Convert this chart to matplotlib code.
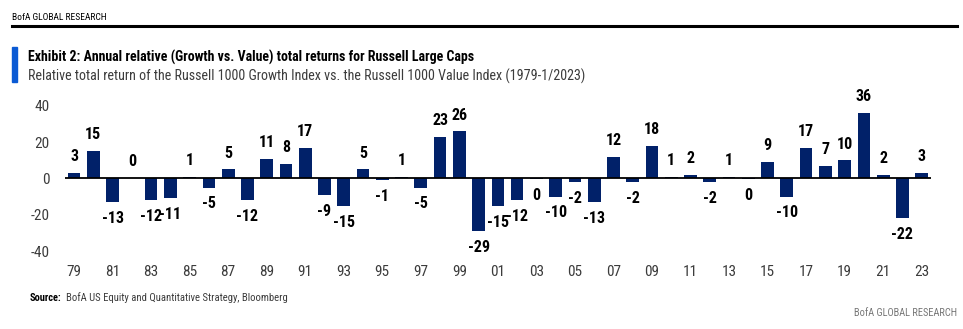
import matplotlib.pyplot as plt
from matplotlib.patches import Rectangle
from matplotlib.lines import Line2D

years = list(range(1979, 2024))
year_labels = [f"{y % 100:02d}" for y in years]
# Russell 1000 Growth minus Russell 1000 Value, annual total return (%)
rel_return = [3, 15, -13, 0.4, -12, -11, 1, -5, 5, -12,
              11, 8, 17, -9, -15, 5, -1, 1, -5, 23,
              26, -29, -15, -12, -0.4, -10, -2, -13, 12, -2,
              18, 1, 2, -2, 1, -0.4, 9, -10, 17, 7,
              10, 36, 2, -22, 3]
y_ticks = [40, 20, 0, -20, -40]

navy = "#012169"
grey = "#3c3c3c"
cond = ["Roboto Condensed", "DejaVu Sans"]

fig = plt.figure(figsize=(9.63, 3.29), dpi=100)
ax = fig.add_axes([0.0675, 0.237, 0.899, 0.441])

x = list(range(len(years)))
ax.bar(x, rel_return, width=0.66, color=navy, zorder=2)
ax.axhline(0, color="black", lw=1.3, zorder=3)

for xi, v in zip(x, rel_return):
    off = 9 if v >= 0 else -9
    ax.text(xi, v + off, f"{v:.0f}".replace("-0", "0"), ha="center", va="center",
            fontsize=11.5, fontweight="bold", family=cond, color="black")

ax.set_xlim(-0.47, len(years) - 0.53)
ax.set_ylim(-40, 40)
ax.set_yticks(y_ticks)
ax.set_yticklabels([str(t) for t in y_ticks], family=cond, fontsize=11, color=grey)
ax.set_xticks(x[::2])
ax.set_xticklabels(year_labels[::2], family=cond, fontsize=11, color=grey)
ax.tick_params(axis="both", length=0)
ax.tick_params(axis="x", pad=10)
ax.tick_params(axis="y", pad=11)
for s in ax.spines.values():
    s.set_visible(False)

# header
fig.text(12 / 963, 1 - 17 / 329, "BofA GLOBAL RESEARCH", fontsize=6.8,
         family=cond, va="center", color="black")
fig.add_artist(Line2D([12 / 963, 957 / 963], [1 - 26 / 329] * 2,
                      color="black", lw=2.2, transform=fig.transFigure))
fig.add_artist(Rectangle((12 / 963, 1 - 82 / 329), 5 / 963, 35 / 329,
                         color="#0a5ad4", transform=fig.transFigure))
fig.text(28 / 963, 1 - 57 / 329,
         "Exhibit 2: Annual relative (Growth vs. Value) total returns for Russell Large Caps",
         fontsize=10, fontweight="bold", family=cond, va="center", color="black")
fig.text(28 / 963, 1 - 76 / 329,
         "Relative total return of the Russell 1000 Growth Index vs. the Russell 1000 Value Index (1979-1/2023)",
         fontsize=10.1, family=cond, va="center", color=grey)

# footer
fig.text(30 / 963, 1 - 298 / 329, "Source:", fontsize=7.5, fontweight="bold",
         family=cond, va="center", color="black")
fig.text(66 / 963, 1 - 298 / 329,
         "BofA US Equity and Quantitative Strategy, Bloomberg",
         fontsize=7.7, family=cond, va="center", color=grey)
fig.text(957 / 963, 1 - 313 / 329, "BofA GLOBAL RESEARCH", fontsize=7.5,
         family=cond, va="center", ha="right", color="#777777")

fig.savefig("out.png", dpi=100)
